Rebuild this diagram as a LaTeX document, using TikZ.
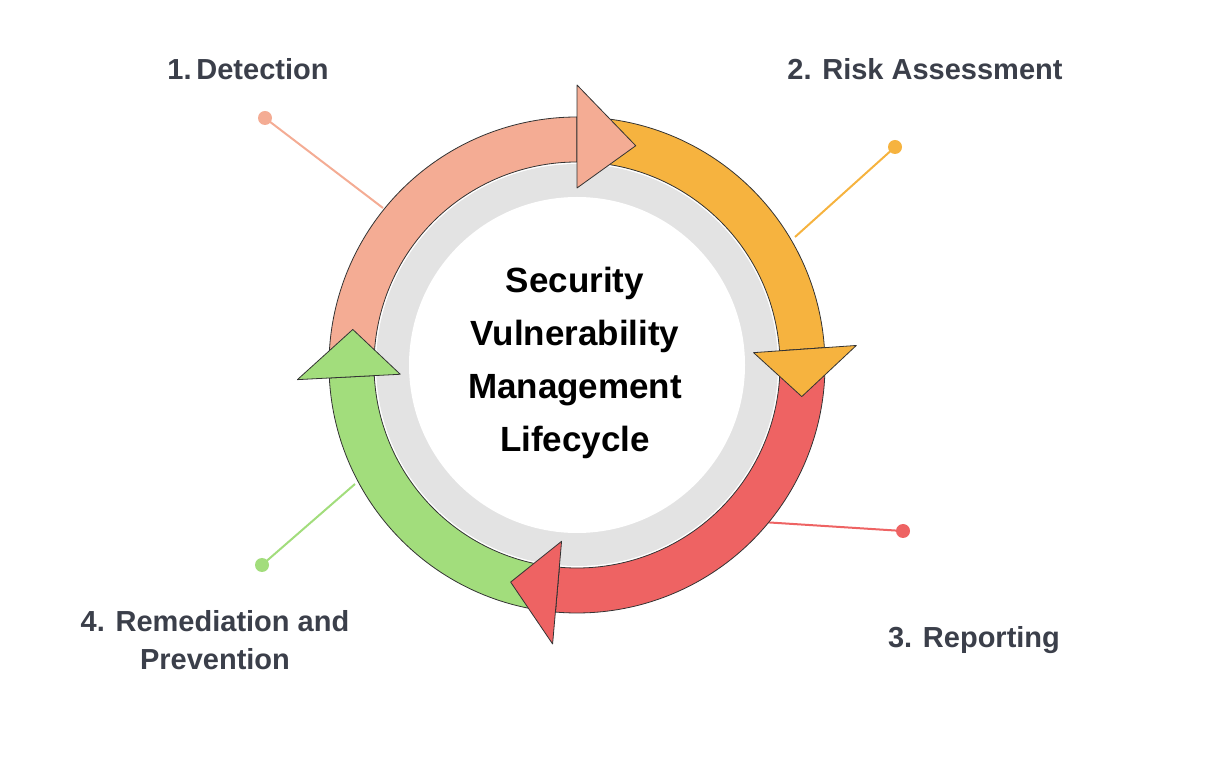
\documentclass[tikz,border=0pt]{standalone}
\usepackage{fontspec}
\setmainfont{Liberation Sans}
\usetikzlibrary{calc}
\definecolor{sal}{HTML}{F4AC94}
\definecolor{org}{HTML}{F6B33F}
\definecolor{rd}{HTML}{EE6363}
\definecolor{grn}{HTML}{A2DD7C}
\definecolor{lbl}{HTML}{3B3F4A}
\definecolor{edge}{HTML}{333333}
\begin{document}
\begin{tikzpicture}[x=1pt,y=1pt,
  band/.style={draw=edge,line width=0.8pt,line join=round},
  lead/.style={line width=2pt},
  lab/.style={font=\fontsize{29}{38}\selectfont\bfseries,text=lbl,align=center}]
\useasboundingbox (0,0) rectangle (1224,769);
\coordinate (c) at (577,404);
\fill[gray!22] (c) circle (201);
\fill[white] (c) circle (168);
% leader lines
\coordinate (d1) at (265,651); \coordinate (e1) at (383,561);
\coordinate (d2) at (895,622); \coordinate (e2) at (795,532);
\coordinate (d3) at (903,238); \coordinate (e3) at (762,247);
\coordinate (d4) at (262,204); \coordinate (e4) at (355,285);
\draw[lead,sal] (d1)--(e1); \fill[sal] (d1) circle (7);
\draw[lead,org] (d2)--(e2); \fill[org] (d2) circle (7);
\draw[lead,rd] (d3)--(e3); \fill[rd] (d3) circle (7);
\draw[lead,grn] (d4)--(e4); \fill[grn] (d4) circle (7);
% bands
\def\ro{248}\def\ri{203}
\foreach \a/\b/\col in {183/90/sal,90/4/org,4/-95/rd,265/183/grn}{
  \filldraw[band,fill=\col] ($(c)+(\a:\ro)$) arc[start angle=\a,end angle=\b,radius=\ro]
    -- ($(c)+(\b:\ri)$) arc[start angle=\b,end angle=\a,radius=\ri] -- cycle;
}
% arrowheads
\foreach \a/\t/\col in {90/75/sal,4/-8/org,-95/-107/rd,183/171/grn}{
  \filldraw[band,fill=\col] ($(c)+(\a:177)$) -- ($(c)+(\a:280)$) -- ($(c)+(\t:227)$) -- cycle;
}
\node[font=\fontsize{35}{53}\selectfont\bfseries,align=center] (ct) at (575,406) {Security\\Vulnerability\\Management\\Lifecycle};
\node[lab] (l1) at (248,700) {1.\,Detection};
\node[lab] (l2) at (925,700) {2. Risk Assessment};
\node[lab] (l3) at (974,129) {3. Reporting};
\node[lab] (l4) at (215,129) {4. Remediation and\\Prevention};
\end{tikzpicture}
\end{document}
